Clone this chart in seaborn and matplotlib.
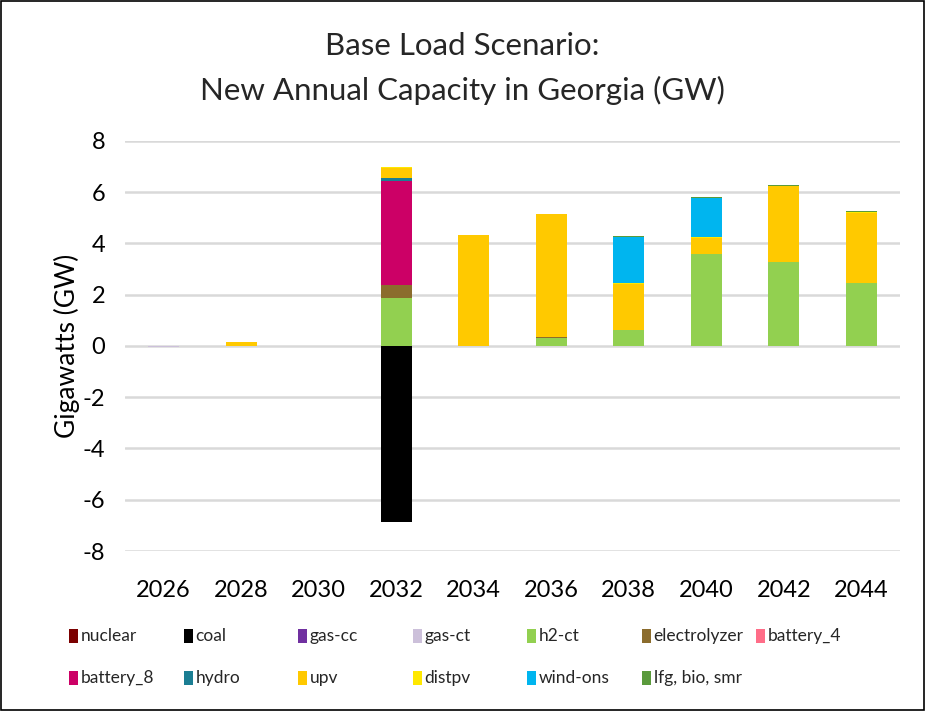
"""Base load scenario: new annual capacity in Georgia, stacked by technology."""
import matplotlib
matplotlib.use("Agg")
import matplotlib.pyplot as plt
import numpy as np
import seaborn as sns
from matplotlib.patches import Rectangle

years = ["2026", "2028", "2030", "2032", "2034", "2036", "2038", "2040", "2042", "2044"]

techs = ["nuclear", "coal", "gas-cc", "gas-ct", "h2-ct", "electrolyzer", "battery_4",
         "battery_8", "hydro", "upv", "distpv", "wind-ons", "lfg, bio, smr"]

nuclear      = [0, 0, 0, 0, 0, 0, 0, 0, 0, 0]
coal         = [0, 0, 0, -6.87, 0, 0, 0, 0, 0, 0]
gas_cc       = [0, 0, 0, 0, 0, 0, 0, 0, 0, 0]
gas_ct       = [-0.05, 0, 0, 0, 0, 0, 0, 0, 0, 0]
h2_ct        = [0, 0, 0, 1.85, 0, 0.30, 0.61, 3.58, 3.26, 2.44]
electrolyzer = [0, 0, 0, 0.52, 0, 0.06, 0, 0, 0, 0]
battery_4    = [0, 0, 0, 0, 0, 0, 0, 0, 0, 0]
battery_8    = [0, 0, 0, 4.08, 0, 0, 0, 0, 0, 0]
hydro        = [0, 0, 0, 0.11, 0, 0, 0, 0, 0, 0]
upv          = [0, 0.15, 0, 0.38, 4.32, 4.77, 1.82, 0.64, 2.96, 2.76]
distpv       = [0, 0.01, 0, 0.02, 0.02, 0.02, 0.02, 0.02, 0.02, 0.03]
wind_ons     = [0, 0, 0, 0, 0, 0, 1.80, 1.52, 0, 0]
lfg_bio_smr  = [0, 0, 0, 0, 0, 0, 0.04, 0.03, 0.03, 0.05]

series = [nuclear, coal, gas_cc, gas_ct, h2_ct, electrolyzer, battery_4,
          battery_8, hydro, upv, distpv, wind_ons, lfg_bio_smr]

colors = ["#7B0000", "#000000", "#7030A0", "#CCC0DA", "#92D050", "#8B6C2D", "#FF6D88",
          "#CC0066", "#1B7E93", "#FFC900", "#FFE800", "#00B5EF", "#5A9A3C"]

sns.set_theme(style="white")
plt.rcParams["font.family"] = ["Lato", "DejaVu Sans"]
plt.rcParams["axes.unicode_minus"] = False

fig = plt.figure(figsize=(9.25, 7.11), dpi=100)
ax = fig.add_axes([0.135, 0.225, 0.838, 0.577])

x = np.arange(len(years))
pos_base = np.zeros(len(years))
neg_base = np.zeros(len(years))
for name, vals, col in zip(techs, series, colors):
    vals = np.array(vals, dtype=float)
    pos = np.where(vals > 0, vals, 0)
    neg = np.where(vals < 0, vals, 0)
    ax.bar(x, pos, bottom=pos_base, width=0.4, color=col, linewidth=0, zorder=3)
    ax.bar(x, neg, bottom=neg_base, width=0.4, color=col, linewidth=0, zorder=3)
    pos_base += pos
    neg_base += neg

ax.set_ylim(-8, 8)
ax.set_yticks(range(-8, 9, 2))
ax.set_xlim(-0.5, len(years) - 0.5)
ax.set_xticks(x)
ax.set_xticklabels(years)
ax.yaxis.grid(True, color="#D9D9D9", linewidth=1.8, zorder=0)
ax.xaxis.grid(False)
for s in ax.spines.values():
    s.set_visible(False)
ax.tick_params(axis="both", length=0, labelsize=17, colors="black")
ax.tick_params(axis="x", pad=21)
ax.tick_params(axis="y", pad=14)
ax.set_ylabel("Gigawatts (GW)", fontsize=19, color="black", labelpad=2)

fig.text(0.5, 0.935, "Base Load Scenario:", ha="center", va="center", fontsize=22.5)
fig.text(0.5, 0.873, "New Annual Capacity in Georgia (GW)", ha="center", va="center",
         fontsize=22.5)

# legend laid out like the spreadsheet: 7 evenly spaced slots per row
for i, (name, col) in enumerate(zip(techs, colors)):
    row, slot = divmod(i, 7)
    lx = 0.075 + slot * 0.1238
    ly = 1 - (636 + row * 42) / 711
    fig.add_artist(Rectangle((lx, ly - 0.0095), 0.0095, 0.019, transform=fig.transFigure,
                             color=col, linewidth=0))
    fig.text(lx + 0.0125, ly, name, ha="left", va="center", fontsize=12.5)

fig.add_artist(Rectangle((0.001, 0.001), 0.998, 0.998, transform=fig.transFigure,
                         fill=False, edgecolor="black", linewidth=1.2))

fig.savefig("out.png", dpi=100)
